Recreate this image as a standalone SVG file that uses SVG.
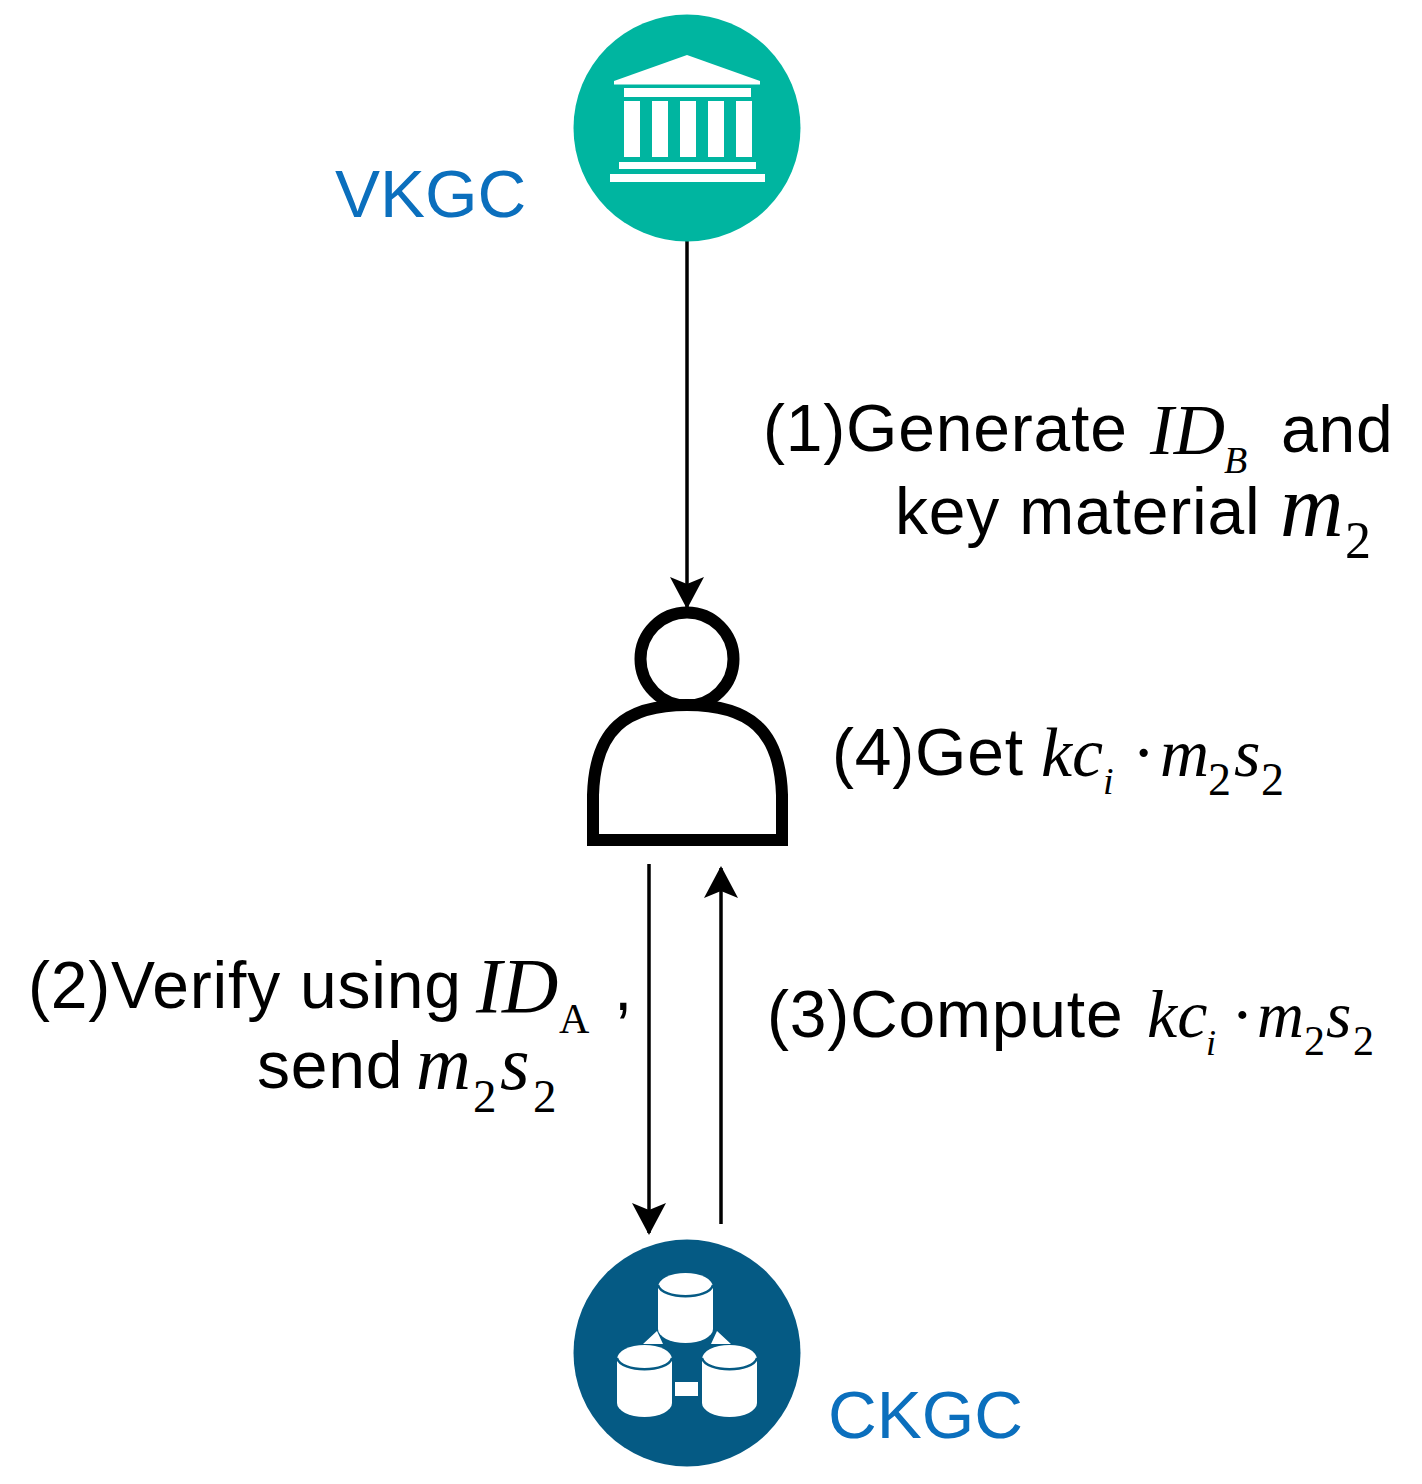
<svg xmlns="http://www.w3.org/2000/svg" width="1422" height="1484" viewBox="0 0 1422 1484">
<style>
.s{font-family:"Liberation Sans",Arial,sans-serif;font-size:66px;letter-spacing:.8px;fill:#000}
.m{font-family:"Liberation Serif","Times New Roman",serif;font-style:italic;fill:#000}
.r{font-family:"Liberation Serif","Times New Roman",serif;fill:#000}
.b{font-family:"Liberation Sans",Arial,sans-serif;font-size:67.500px;fill:#0b6fbd}
.c{fill:none;stroke:#000;stroke-width:3.5}
</style>
<defs>
<marker id="a" markerUnits="userSpaceOnUse" markerWidth="34" markerHeight="34" refX="30" refY="17" orient="auto"><path d="M0 0L32 17L0 34L7 17Z" fill="#000"/></marker>
</defs>
<rect width="1422" height="1484" fill="#fff"/>
<g id="connectors">
<path class="c" d="M687 240V607" marker-end="url(#a)"/>
<path class="c" d="M649 864V1233" marker-end="url(#a)"/>
<path class="c" d="M721 1224V868" marker-end="url(#a)"/>
</g>
<g id="vkgc">
<circle cx="687" cy="128" r="113.500" fill="#00b5a0"/>
<g fill="#fff">
<path d="M614 81L687 55L760 81V84.500H614Z"/>
<rect x="624" y="88" width="127" height="9"/>
<rect x="624" y="101" width="16" height="56"/><rect x="652" y="101" width="16" height="56"/><rect x="680" y="101" width="16" height="56"/><rect x="708" y="101" width="16" height="56"/><rect x="736" y="101" width="16" height="56"/>
<rect x="619" y="162" width="137" height="7"/>
<rect x="610" y="174" width="155" height="8"/>
</g>
<text class="b" x="335" y="217">VKGC</text>
</g>
<g id="user">
<circle cx="687" cy="659" r="46.500" fill="#fff" stroke="#000" stroke-width="12"/>
<path d="M593 840V795C595 730 625 705 687 705C749 705 780 730 782 795V840Z" fill="#fff" stroke="#000" stroke-width="12"/>
</g>
<g id="ckgc">
<circle cx="687" cy="1353" r="113.500" fill="#055a84"/>
<g fill="#fff">
<path d="M643 1344L657 1331L663 1344Z M731 1344L717 1331L711 1344Z"/>
<rect x="675" y="1382" width="23" height="14"/>
<path d="M658 1287A27.500 14 0 0 1 713 1287V1329A27.500 14 0 0 1 658 1329Z"/>
<path d="M617 1359A27.500 14 0 0 1 672 1359V1403A27.500 14 0 0 1 617 1403Z"/>
<path d="M702 1359A27.500 14 0 0 1 757 1359V1403A27.500 14 0 0 1 702 1403Z"/>
</g>
<g fill="none" stroke="#055a84" stroke-width="2.500">
<path d="M658 1285C662 1300 709 1300 713 1285"/>
<path d="M617 1358C621 1373 668 1373 672 1358"/>
<path d="M702 1358C706 1373 753 1373 757 1358"/>
</g>
<text class="b" x="828" y="1438">CKGC</text>
</g>
<g id="labels">
<text class="s" x="763" y="451">(1)Generate</text>
<text class="m" font-size="71" x="1150" y="454">ID</text><text class="m" font-size="38" x="1224" y="473">B</text>
<text class="s" x="1281" y="452">and</text>
<text class="s" x="895" y="534">key material</text>
<text class="m" font-size="88" x="1280" y="536">m</text><text class="r" font-size="52" x="1345" y="558">2</text>
<text class="s" x="832" y="775">(4)Get</text>
<text class="m" font-size="70" x="1041" y="776">kc</text><text class="m" font-size="38" x="1103" y="794">i</text>
<text class="r" font-size="70" x="1132" y="776">·</text>
<text class="m" font-size="68" x="1160" y="776">m</text><text class="r" font-size="46" x="1208" y="795">2</text>
<text class="m" font-size="68" x="1234" y="776">s</text><text class="r" font-size="46" x="1261" y="795">2</text>
<text class="s" x="28" y="1008">(2)Verify using</text>
<text class="m" font-size="78" x="476" y="1012">ID</text><text class="r" font-size="42" x="559" y="1033">A</text>
<text class="s" x="614" y="1010">,</text>
<text class="s" x="257" y="1088">send</text>
<text class="m" font-size="76" x="416" y="1089">m</text><text class="r" font-size="47" x="473" y="1112">2</text>
<text class="m" font-size="76" x="500" y="1089">s</text><text class="r" font-size="47" x="533" y="1112">2</text>
<text class="s" x="767" y="1037">(3)Compute</text>
<text class="m" font-size="68" x="1147" y="1037">kc</text><text class="m" font-size="36" x="1206" y="1055">i</text>
<text class="r" font-size="68" x="1231" y="1037">·</text>
<text class="m" font-size="65" x="1257" y="1037">m</text><text class="r" font-size="42" x="1304" y="1055">2</text>
<text class="m" font-size="65" x="1326" y="1037">s</text><text class="r" font-size="42" x="1353" y="1055">2</text>
</g>
</svg>
